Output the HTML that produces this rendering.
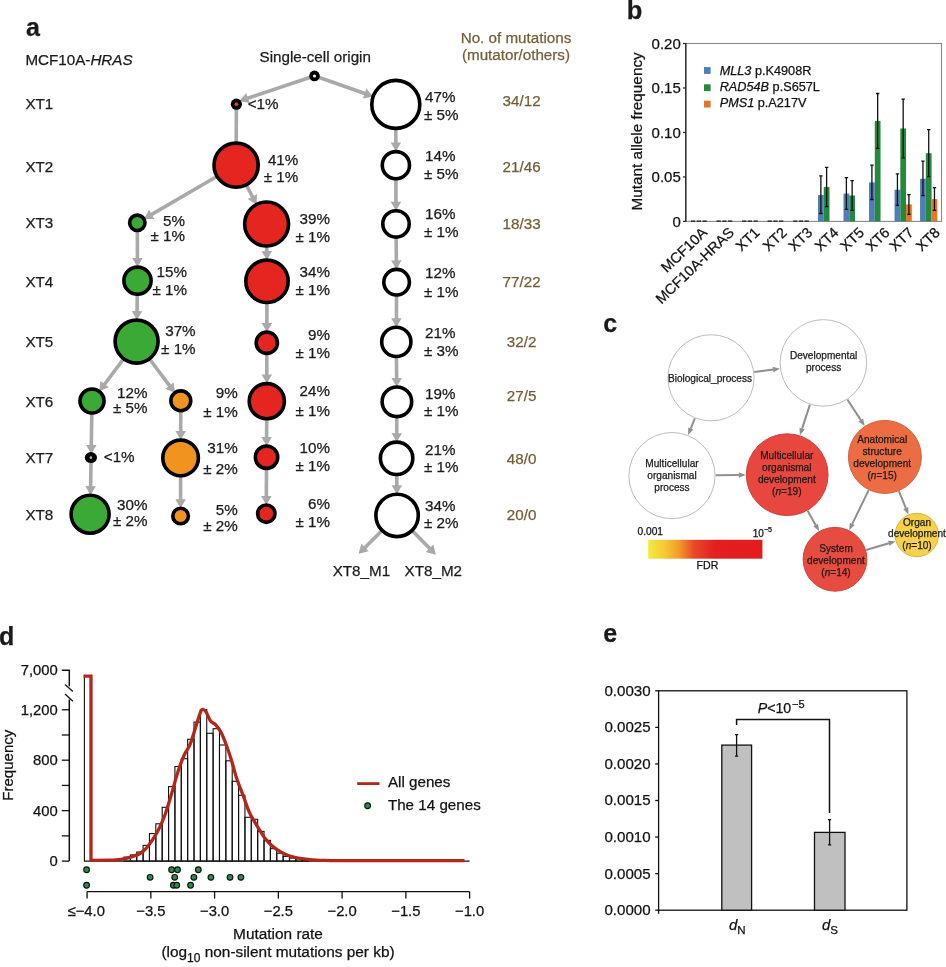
<!DOCTYPE html>
<html><head><meta charset="utf-8"><style>
html,body{margin:0;padding:0;background:#fff;}
svg{display:block;font-family:"Liberation Sans", sans-serif;will-change:transform;}
text{stroke-width:0.25px;paint-order:stroke;}
</style></head><body>
<svg width="946" height="967" viewBox="0 0 946 967">
<rect width="946" height="967" fill="#fff"/>
<line x1="310.42" y1="77.26" x2="246.95" y2="98.42" stroke="#a9a9a9" stroke-width="3.6"/>
<polygon points="239.36,100.95 246.24,93.12 249.56,103.08" fill="#a9a9a9"/>
<line x1="318.56" y1="77.32" x2="365.60" y2="93.81" stroke="#a9a9a9" stroke-width="3.6"/>
<polygon points="373.15,96.46 362.92,98.44 366.39,88.53" fill="#a9a9a9"/>
<line x1="236.38" y1="108.80" x2="236.21" y2="142.30" stroke="#a9a9a9" stroke-width="3.6"/>
<line x1="395.84" y1="129.20" x2="395.86" y2="143.60" stroke="#a9a9a9" stroke-width="3.6"/>
<polygon points="395.88,151.60 390.61,142.61 401.11,142.59" fill="#a9a9a9"/>
<line x1="216.32" y1="176.73" x2="150.86" y2="214.89" stroke="#a9a9a9" stroke-width="3.6"/>
<polygon points="143.95,218.92 149.08,209.85 154.37,218.92" fill="#a9a9a9"/>
<line x1="246.64" y1="185.53" x2="252.81" y2="197.41" stroke="#a9a9a9" stroke-width="3.6"/>
<polygon points="256.49,204.52 247.69,198.94 257.01,194.11" fill="#a9a9a9"/>
<line x1="395.92" y1="179.60" x2="395.96" y2="202.70" stroke="#a9a9a9" stroke-width="3.6"/>
<polygon points="395.98,210.70 390.71,201.71 401.21,201.69" fill="#a9a9a9"/>
<line x1="137.33" y1="231.30" x2="137.43" y2="259.10" stroke="#a9a9a9" stroke-width="3.6"/>
<polygon points="137.45,267.10 132.17,258.12 142.67,258.08" fill="#a9a9a9"/>
<line x1="266.76" y1="246.75" x2="266.80" y2="252.10" stroke="#a9a9a9" stroke-width="3.6"/>
<polygon points="266.85,260.10 261.54,251.14 272.04,251.06" fill="#a9a9a9"/>
<line x1="396.14" y1="237.90" x2="396.39" y2="261.40" stroke="#a9a9a9" stroke-width="3.6"/>
<polygon points="396.47,269.40 391.13,260.46 401.63,260.35" fill="#a9a9a9"/>
<line x1="137.29" y1="295.10" x2="137.04" y2="312.10" stroke="#a9a9a9" stroke-width="3.6"/>
<polygon points="136.92,320.10 131.80,311.03 142.30,311.18" fill="#a9a9a9"/>
<line x1="266.93" y1="303.30" x2="266.86" y2="324.05" stroke="#a9a9a9" stroke-width="3.6"/>
<polygon points="266.83,332.05 261.61,323.03 272.11,323.07" fill="#a9a9a9"/>
<line x1="396.53" y1="295.80" x2="396.41" y2="319.30" stroke="#a9a9a9" stroke-width="3.6"/>
<polygon points="396.37,327.30 391.17,318.27 401.67,318.33" fill="#a9a9a9"/>
<line x1="123.21" y1="359.43" x2="104.04" y2="384.97" stroke="#a9a9a9" stroke-width="3.6"/>
<polygon points="99.24,391.36 100.44,381.01 108.84,387.32" fill="#a9a9a9"/>
<line x1="149.94" y1="359.47" x2="170.06" y2="386.42" stroke="#a9a9a9" stroke-width="3.6"/>
<polygon points="174.85,392.83 165.26,388.76 173.67,382.47" fill="#a9a9a9"/>
<line x1="266.80" y1="354.15" x2="266.80" y2="375.60" stroke="#a9a9a9" stroke-width="3.6"/>
<polygon points="266.80,383.60 261.55,374.60 272.05,374.60" fill="#a9a9a9"/>
<line x1="396.45" y1="357.30" x2="396.67" y2="379.00" stroke="#a9a9a9" stroke-width="3.6"/>
<polygon points="396.75,387.00 391.41,378.05 401.91,377.95" fill="#a9a9a9"/>
<line x1="91.80" y1="413.85" x2="91.29" y2="446.00" stroke="#a9a9a9" stroke-width="3.6"/>
<polygon points="91.16,454.00 86.05,444.92 96.55,445.08" fill="#a9a9a9"/>
<line x1="180.76" y1="411.55" x2="180.69" y2="432.10" stroke="#a9a9a9" stroke-width="3.6"/>
<polygon points="180.66,440.10 175.44,431.08 185.94,431.12" fill="#a9a9a9"/>
<line x1="266.70" y1="419.60" x2="266.60" y2="438.00" stroke="#a9a9a9" stroke-width="3.6"/>
<polygon points="266.56,446.00 261.36,436.97 271.86,437.03" fill="#a9a9a9"/>
<line x1="396.82" y1="417.40" x2="396.73" y2="434.10" stroke="#a9a9a9" stroke-width="3.6"/>
<polygon points="396.69,442.10 391.48,433.07 401.98,433.13" fill="#a9a9a9"/>
<line x1="91.02" y1="462.40" x2="90.58" y2="487.20" stroke="#a9a9a9" stroke-width="3.6"/>
<polygon points="90.44,495.20 85.35,486.11 95.85,486.30" fill="#a9a9a9"/>
<line x1="180.60" y1="476.50" x2="180.60" y2="500.20" stroke="#a9a9a9" stroke-width="3.6"/>
<polygon points="180.60,508.20 175.35,499.20 185.85,499.20" fill="#a9a9a9"/>
<line x1="266.46" y1="469.20" x2="266.36" y2="497.00" stroke="#a9a9a9" stroke-width="3.6"/>
<polygon points="266.33,505.00 261.11,495.98 271.61,496.02" fill="#a9a9a9"/>
<line x1="396.75" y1="475.30" x2="396.84" y2="486.20" stroke="#a9a9a9" stroke-width="3.6"/>
<polygon points="396.91,494.20 391.59,485.25 402.09,485.16" fill="#a9a9a9"/>
<line x1="381.52" y1="530.94" x2="364.26" y2="548.16" stroke="#a9a9a9" stroke-width="3.6"/>
<polygon points="358.59,553.81 361.26,543.73 368.67,551.17" fill="#a9a9a9"/>
<line x1="412.56" y1="531.06" x2="430.29" y2="549.01" stroke="#a9a9a9" stroke-width="3.6"/>
<polygon points="435.91,554.71 425.85,551.99 433.32,544.61" fill="#a9a9a9"/>
<circle cx="314.5" cy="75.9" r="5.3" fill="#000"/>
<circle cx="314.5" cy="75.9" r="1.5" fill="white"/>
<circle cx="236.4" cy="104.2" r="5.6" fill="#000"/>
<circle cx="236.4" cy="104.2" r="1.9" fill="#d9403c"/>
<circle cx="395.8" cy="104.4" r="24.00" fill="white" stroke="#000" stroke-width="3.6"/>
<circle cx="236.1" cy="165.2" r="22.10" fill="#e42520" stroke="#000" stroke-width="3.6"/>
<circle cx="395.9" cy="165.2" r="13.60" fill="white" stroke="#000" stroke-width="3.6"/>
<circle cx="137.3" cy="222.8" r="7.70" fill="#3aa935" stroke="#000" stroke-width="3.6"/>
<circle cx="266.6" cy="224.0" r="21.95" fill="#e42520" stroke="#000" stroke-width="3.6"/>
<circle cx="396.0" cy="223.9" r="13.20" fill="white" stroke="#000" stroke-width="3.6"/>
<circle cx="137.5" cy="280.7" r="13.60" fill="#3aa935" stroke="#000" stroke-width="3.6"/>
<circle cx="267.0" cy="281.3" r="21.20" fill="#e42520" stroke="#000" stroke-width="3.6"/>
<circle cx="396.6" cy="282.2" r="12.80" fill="white" stroke="#000" stroke-width="3.6"/>
<circle cx="136.6" cy="341.6" r="21.50" fill="#3aa935" stroke="#000" stroke-width="3.6"/>
<circle cx="266.8" cy="342.7" r="10.65" fill="#e42520" stroke="#000" stroke-width="3.6"/>
<circle cx="396.3" cy="341.9" r="14.60" fill="white" stroke="#000" stroke-width="3.6"/>
<circle cx="92.0" cy="401.0" r="12.05" fill="#3aa935" stroke="#000" stroke-width="3.6"/>
<circle cx="180.8" cy="400.8" r="9.95" fill="#f0941f" stroke="#000" stroke-width="3.6"/>
<circle cx="266.8" cy="401.2" r="17.60" fill="#e42520" stroke="#000" stroke-width="3.6"/>
<circle cx="396.9" cy="401.8" r="14.80" fill="white" stroke="#000" stroke-width="3.6"/>
<ellipse cx="90.9" cy="457.6" rx="6.1" ry="5.5" fill="#000"/>
<circle cx="90.9" cy="457.6" r="1.3" fill="#9fc79f"/>
<circle cx="180.6" cy="457.9" r="17.80" fill="#f0941f" stroke="#000" stroke-width="3.6"/>
<circle cx="266.5" cy="457.2" r="11.20" fill="#e42520" stroke="#000" stroke-width="3.6"/>
<circle cx="396.6" cy="458.3" r="16.20" fill="white" stroke="#000" stroke-width="3.6"/>
<circle cx="90.1" cy="514.2" r="19.00" fill="#3aa935" stroke="#000" stroke-width="3.6"/>
<circle cx="180.6" cy="516.0" r="7.80" fill="#f0941f" stroke="#000" stroke-width="3.6"/>
<circle cx="266.3" cy="513.7" r="8.70" fill="#e42520" stroke="#000" stroke-width="3.6"/>
<circle cx="397.1" cy="515.4" r="21.20" fill="white" stroke="#000" stroke-width="3.6"/>
<text x="425.0" y="102.1" font-size="15.2" text-anchor="start" fill="#1a1a1a" stroke="#1a1a1a" >47%</text>
<text x="424.0" y="120.3" font-size="15.2" text-anchor="start" fill="#1a1a1a" stroke="#1a1a1a" >± 5%</text>
<text x="425.0" y="161.2" font-size="15.2" text-anchor="start" fill="#1a1a1a" stroke="#1a1a1a" >14%</text>
<text x="424.0" y="179.4" font-size="15.2" text-anchor="start" fill="#1a1a1a" stroke="#1a1a1a" >± 5%</text>
<text x="425.0" y="219.2" font-size="15.2" text-anchor="start" fill="#1a1a1a" stroke="#1a1a1a" >16%</text>
<text x="424.0" y="237.4" font-size="15.2" text-anchor="start" fill="#1a1a1a" stroke="#1a1a1a" >± 1%</text>
<text x="425.0" y="278.4" font-size="15.2" text-anchor="start" fill="#1a1a1a" stroke="#1a1a1a" >12%</text>
<text x="424.0" y="296.6" font-size="15.2" text-anchor="start" fill="#1a1a1a" stroke="#1a1a1a" >± 1%</text>
<text x="425.0" y="338.2" font-size="15.2" text-anchor="start" fill="#1a1a1a" stroke="#1a1a1a" >21%</text>
<text x="424.0" y="356.4" font-size="15.2" text-anchor="start" fill="#1a1a1a" stroke="#1a1a1a" >± 3%</text>
<text x="425.0" y="398.5" font-size="15.2" text-anchor="start" fill="#1a1a1a" stroke="#1a1a1a" >19%</text>
<text x="424.0" y="415.6" font-size="15.2" text-anchor="start" fill="#1a1a1a" stroke="#1a1a1a" >± 1%</text>
<text x="425.0" y="454.7" font-size="15.2" text-anchor="start" fill="#1a1a1a" stroke="#1a1a1a" >21%</text>
<text x="424.0" y="472.4" font-size="15.2" text-anchor="start" fill="#1a1a1a" stroke="#1a1a1a" >± 1%</text>
<text x="425.0" y="510.7" font-size="15.2" text-anchor="start" fill="#1a1a1a" stroke="#1a1a1a" >34%</text>
<text x="424.0" y="528.2" font-size="15.2" text-anchor="start" fill="#1a1a1a" stroke="#1a1a1a" >± 2%</text>
<text x="298.3" y="164.5" font-size="15.2" text-anchor="end" fill="#1a1a1a" stroke="#1a1a1a" >41%</text>
<text x="298.3" y="181.9" font-size="15.2" text-anchor="end" fill="#1a1a1a" stroke="#1a1a1a" >± 1%</text>
<text x="329.9" y="224.0" font-size="15.2" text-anchor="end" fill="#1a1a1a" stroke="#1a1a1a" >39%</text>
<text x="329.9" y="241.8" font-size="15.2" text-anchor="end" fill="#1a1a1a" stroke="#1a1a1a" >± 1%</text>
<text x="329.9" y="277.0" font-size="15.2" text-anchor="end" fill="#1a1a1a" stroke="#1a1a1a" >34%</text>
<text x="329.9" y="295.3" font-size="15.2" text-anchor="end" fill="#1a1a1a" stroke="#1a1a1a" >± 1%</text>
<text x="329.9" y="339.8" font-size="15.2" text-anchor="end" fill="#1a1a1a" stroke="#1a1a1a" >9%</text>
<text x="329.9" y="357.9" font-size="15.2" text-anchor="end" fill="#1a1a1a" stroke="#1a1a1a" >± 1%</text>
<text x="330.0" y="396.3" font-size="15.2" text-anchor="end" fill="#1a1a1a" stroke="#1a1a1a" >24%</text>
<text x="330.0" y="415.5" font-size="15.2" text-anchor="end" fill="#1a1a1a" stroke="#1a1a1a" >± 1%</text>
<text x="330.0" y="453.1" font-size="15.2" text-anchor="end" fill="#1a1a1a" stroke="#1a1a1a" >10%</text>
<text x="330.0" y="471.4" font-size="15.2" text-anchor="end" fill="#1a1a1a" stroke="#1a1a1a" >± 1%</text>
<text x="330.0" y="508.6" font-size="15.2" text-anchor="end" fill="#1a1a1a" stroke="#1a1a1a" >6%</text>
<text x="330.0" y="526.7" font-size="15.2" text-anchor="end" fill="#1a1a1a" stroke="#1a1a1a" >± 1%</text>
<text x="184.9" y="226.1" font-size="15.2" text-anchor="end" fill="#1a1a1a" stroke="#1a1a1a" >5%</text>
<text x="184.9" y="241.0" font-size="15.2" text-anchor="end" fill="#1a1a1a" stroke="#1a1a1a" >± 1%</text>
<text x="186.9" y="276.5" font-size="15.2" text-anchor="end" fill="#1a1a1a" stroke="#1a1a1a" >15%</text>
<text x="186.9" y="295.2" font-size="15.2" text-anchor="end" fill="#1a1a1a" stroke="#1a1a1a" >± 1%</text>
<text x="195.6" y="335.7" font-size="15.2" text-anchor="end" fill="#1a1a1a" stroke="#1a1a1a" >37%</text>
<text x="195.6" y="354.2" font-size="15.2" text-anchor="end" fill="#1a1a1a" stroke="#1a1a1a" >± 1%</text>
<text x="147.4" y="397.6" font-size="15.2" text-anchor="end" fill="#1a1a1a" stroke="#1a1a1a" >12%</text>
<text x="147.4" y="412.8" font-size="15.2" text-anchor="end" fill="#1a1a1a" stroke="#1a1a1a" >± 5%</text>
<text x="237.7" y="398.2" font-size="15.2" text-anchor="end" fill="#1a1a1a" stroke="#1a1a1a" >9%</text>
<text x="237.7" y="417.2" font-size="15.2" text-anchor="end" fill="#1a1a1a" stroke="#1a1a1a" >± 1%</text>
<text x="237.7" y="453.4" font-size="15.2" text-anchor="end" fill="#1a1a1a" stroke="#1a1a1a" >31%</text>
<text x="237.7" y="473.5" font-size="15.2" text-anchor="end" fill="#1a1a1a" stroke="#1a1a1a" >± 2%</text>
<text x="147.4" y="509.6" font-size="15.2" text-anchor="end" fill="#1a1a1a" stroke="#1a1a1a" >30%</text>
<text x="147.4" y="525.7" font-size="15.2" text-anchor="end" fill="#1a1a1a" stroke="#1a1a1a" >± 2%</text>
<text x="237.7" y="514.6" font-size="15.2" text-anchor="end" fill="#1a1a1a" stroke="#1a1a1a" >5%</text>
<text x="237.7" y="530.7" font-size="15.2" text-anchor="end" fill="#1a1a1a" stroke="#1a1a1a" >± 2%</text>
<text x="247.7" y="108.5" font-size="15.2" text-anchor="start" fill="#1a1a1a" stroke="#1a1a1a" >&lt;1%</text>
<text x="103.8" y="461.8" font-size="15.2" text-anchor="start" fill="#1a1a1a" stroke="#1a1a1a" >&lt;1%</text>
<text x="332.7" y="575.8" font-size="15.2" text-anchor="start" fill="#1a1a1a" stroke="#1a1a1a" >XT8_M1</text>
<text x="404.6" y="575.8" font-size="15.2" text-anchor="start" fill="#1a1a1a" stroke="#1a1a1a" >XT8_M2</text>
<text x="259.5" y="61.8" font-size="15.2" text-anchor="start" fill="#1a1a1a" stroke="#1a1a1a" >Single-cell origin</text>
<text x="25.4" y="64.8" font-size="15.2" text-anchor="start" fill="#1a1a1a" stroke="#1a1a1a" >MCF10A-<tspan font-style="italic">HRAS</tspan></text>
<text x="25.4" y="108.5" font-size="15.2" text-anchor="start" fill="#1a1a1a" stroke="#1a1a1a" >XT1</text>
<text x="25.4" y="172.2" font-size="15.2" text-anchor="start" fill="#1a1a1a" stroke="#1a1a1a" >XT2</text>
<text x="25.4" y="228.0" font-size="15.2" text-anchor="start" fill="#1a1a1a" stroke="#1a1a1a" >XT3</text>
<text x="25.4" y="286.7" font-size="15.2" text-anchor="start" fill="#1a1a1a" stroke="#1a1a1a" >XT4</text>
<text x="25.4" y="346.7" font-size="15.2" text-anchor="start" fill="#1a1a1a" stroke="#1a1a1a" >XT5</text>
<text x="25.4" y="406.6" font-size="15.2" text-anchor="start" fill="#1a1a1a" stroke="#1a1a1a" >XT6</text>
<text x="25.4" y="463.1" font-size="15.2" text-anchor="start" fill="#1a1a1a" stroke="#1a1a1a" >XT7</text>
<text x="25.4" y="520.0" font-size="15.2" text-anchor="start" fill="#1a1a1a" stroke="#1a1a1a" >XT8</text>
<text x="26" y="36.3" font-size="25" text-anchor="start" fill="#1a1a1a" stroke="#1a1a1a" font-weight="bold" fill="#000">a</text>
<text x="516" y="43.3" font-size="15.2" text-anchor="middle" fill="#735d36" stroke="#735d36" >No. of mutations</text>
<text x="516" y="60.2" font-size="15.2" text-anchor="middle" fill="#735d36" stroke="#735d36" >(mutator/others)</text>
<text x="521.6" y="106.2" font-size="15.2" text-anchor="middle" fill="#735d36" stroke="#735d36" >34/12</text>
<text x="521.6" y="172.2" font-size="15.2" text-anchor="middle" fill="#735d36" stroke="#735d36" >21/46</text>
<text x="521.6" y="228.8" font-size="15.2" text-anchor="middle" fill="#735d36" stroke="#735d36" >18/33</text>
<text x="521.6" y="287.2" font-size="15.2" text-anchor="middle" fill="#735d36" stroke="#735d36" >77/22</text>
<text x="521.6" y="347.3" font-size="15.2" text-anchor="middle" fill="#735d36" stroke="#735d36" >32/2</text>
<text x="521.6" y="401.4" font-size="15.2" text-anchor="middle" fill="#735d36" stroke="#735d36" >27/5</text>
<text x="521.6" y="463.6" font-size="15.2" text-anchor="middle" fill="#735d36" stroke="#735d36" >48/0</text>
<text x="521.6" y="520.2" font-size="15.2" text-anchor="middle" fill="#735d36" stroke="#735d36" >20/0</text>
<text x="626.8" y="18.6" font-size="25.5" text-anchor="start" fill="#1a1a1a" stroke="#1a1a1a" font-weight="bold" fill="#000">b</text>
<rect x="685.8" y="43.5" width="255.70000000000005" height="177.9" fill="none" stroke="#8a8a8a" stroke-width="1.1"/>
<line x1="685.8" y1="43.0" x2="685.8" y2="221.9" stroke="#222" stroke-width="1.3"/>
<line x1="683.0" y1="221.40" x2="685.8" y2="221.40" stroke="#222" stroke-width="1.2"/>
<text x="680.8" y="226.70000000000002" font-size="15" text-anchor="end" fill="#111" stroke="#111" >0</text>
<line x1="683.0" y1="176.93" x2="685.8" y2="176.93" stroke="#222" stroke-width="1.2"/>
<text x="680.8" y="182.22500000000002" font-size="15" text-anchor="end" fill="#111" stroke="#111" >0.05</text>
<line x1="683.0" y1="132.45" x2="685.8" y2="132.45" stroke="#222" stroke-width="1.2"/>
<text x="680.8" y="137.75" font-size="15" text-anchor="end" fill="#111" stroke="#111" >0.10</text>
<line x1="683.0" y1="87.97" x2="685.8" y2="87.97" stroke="#222" stroke-width="1.2"/>
<text x="680.8" y="93.27499999999999" font-size="15" text-anchor="end" fill="#111" stroke="#111" >0.15</text>
<line x1="683.0" y1="43.50" x2="685.8" y2="43.50" stroke="#222" stroke-width="1.2"/>
<text x="680.8" y="48.8" font-size="15" text-anchor="end" fill="#111" stroke="#111" >0.20</text>
<text transform="translate(642.2,131.4) rotate(-90)" font-size="15.3" text-anchor="middle" fill="#111" stroke="#111">Mutant allele frequency</text>
<rect x="704.0" y="67.1" width="6.6" height="6.8" fill="#4f7db8"/>
<rect x="704.0" y="84.3" width="6.6" height="6.8" fill="#22893e"/>
<rect x="704.0" y="100.7" width="6.6" height="6.8" fill="#e2762a"/>
<text x="719.7" y="75.0" font-size="12.7" fill="#111" stroke="#111"><tspan font-style="italic">MLL3</tspan> p.K4908R</text>
<text x="719.7" y="91.2" font-size="12.7" fill="#111" stroke="#111"><tspan font-style="italic">RAD54B</tspan> p.S657L</text>
<text x="719.7" y="107.3" font-size="12.7" fill="#111" stroke="#111"><tspan font-style="italic">PMS1</tspan> p.A217V</text>
<line x1="691.00" y1="221.1" x2="695.25" y2="221.1" stroke="#111" stroke-width="1.2"/>
<line x1="696.75" y1="221.1" x2="701.00" y2="221.1" stroke="#111" stroke-width="1.2"/>
<line x1="702.50" y1="221.1" x2="706.75" y2="221.1" stroke="#111" stroke-width="1.2"/>
<text transform="translate(707.92,233.6) rotate(-44)" font-size="14.5" text-anchor="end" fill="#111" stroke="#111">MCF10A</text>
<line x1="716.52" y1="221.1" x2="720.77" y2="221.1" stroke="#111" stroke-width="1.2"/>
<line x1="722.27" y1="221.1" x2="726.52" y2="221.1" stroke="#111" stroke-width="1.2"/>
<line x1="728.02" y1="221.1" x2="732.27" y2="221.1" stroke="#111" stroke-width="1.2"/>
<text transform="translate(735.04,233.6) rotate(-44)" font-size="14.5" text-anchor="end" fill="#111" stroke="#111">MCF10A-HRAS</text>
<line x1="742.04" y1="221.1" x2="746.29" y2="221.1" stroke="#111" stroke-width="1.2"/>
<line x1="747.79" y1="221.1" x2="752.04" y2="221.1" stroke="#111" stroke-width="1.2"/>
<line x1="753.54" y1="221.1" x2="757.79" y2="221.1" stroke="#111" stroke-width="1.2"/>
<text transform="translate(760.57,233.6) rotate(-44)" font-size="14.5" text-anchor="end" fill="#111" stroke="#111">XT1</text>
<line x1="767.56" y1="221.1" x2="771.81" y2="221.1" stroke="#111" stroke-width="1.2"/>
<line x1="773.31" y1="221.1" x2="777.56" y2="221.1" stroke="#111" stroke-width="1.2"/>
<line x1="779.06" y1="221.1" x2="783.31" y2="221.1" stroke="#111" stroke-width="1.2"/>
<text transform="translate(787.69,233.6) rotate(-44)" font-size="14.5" text-anchor="end" fill="#111" stroke="#111">XT2</text>
<line x1="793.08" y1="221.1" x2="797.33" y2="221.1" stroke="#111" stroke-width="1.2"/>
<line x1="798.83" y1="221.1" x2="803.08" y2="221.1" stroke="#111" stroke-width="1.2"/>
<line x1="804.58" y1="221.1" x2="808.83" y2="221.1" stroke="#111" stroke-width="1.2"/>
<text transform="translate(813.31,233.6) rotate(-44)" font-size="14.5" text-anchor="end" fill="#111" stroke="#111">XT3</text>
<rect x="818.00" y="195.0" width="5.75" height="26.40" fill="#4f7db8"/>
<rect x="823.75" y="187.1" width="5.75" height="34.30" fill="#22893e"/>
<path d="M820.88 175.8 V213.5 M819.17 175.8 H822.58 M819.17 213.5 H822.58" stroke="#111" stroke-width="1.3" fill="none"/>
<path d="M826.62 167.4 V206.7 M824.92 167.4 H828.33 M824.92 206.7 H828.33" stroke="#111" stroke-width="1.3" fill="none"/>
<text transform="translate(839.62,233.6) rotate(-44)" font-size="14.5" text-anchor="end" fill="#111" stroke="#111">XT4</text>
<rect x="843.52" y="193.6" width="5.75" height="27.80" fill="#4f7db8"/>
<rect x="849.27" y="195.5" width="5.75" height="25.90" fill="#22893e"/>
<path d="M846.39 177.7 V209.4 M844.69 177.7 H848.10 M844.69 209.4 H848.10" stroke="#111" stroke-width="1.3" fill="none"/>
<path d="M852.14 180.6 V210.4 M850.44 180.6 H853.85 M850.44 210.4 H853.85" stroke="#111" stroke-width="1.3" fill="none"/>
<text transform="translate(865.14,233.6) rotate(-44)" font-size="14.5" text-anchor="end" fill="#111" stroke="#111">XT5</text>
<rect x="869.04" y="182.4" width="5.75" height="39.00" fill="#4f7db8"/>
<rect x="874.79" y="120.9" width="5.75" height="100.50" fill="#22893e"/>
<path d="M871.91 165.1 V199.5 M870.21 165.1 H873.62 M870.21 199.5 H873.62" stroke="#111" stroke-width="1.3" fill="none"/>
<path d="M877.66 93.5 V148.3 M875.96 93.5 H879.37 M875.96 148.3 H879.37" stroke="#111" stroke-width="1.3" fill="none"/>
<text transform="translate(890.66,233.6) rotate(-44)" font-size="14.5" text-anchor="end" fill="#111" stroke="#111">XT6</text>
<rect x="894.56" y="189.7" width="5.75" height="31.70" fill="#4f7db8"/>
<rect x="900.31" y="128.5" width="5.75" height="92.90" fill="#22893e"/>
<rect x="906.06" y="204.4" width="5.75" height="17.00" fill="#e2762a"/>
<path d="M897.43 173.9 V205.4 M895.73 173.9 H899.13 M895.73 205.4 H899.13" stroke="#111" stroke-width="1.3" fill="none"/>
<path d="M903.18 99.1 V157.9 M901.48 99.1 H904.88 M901.48 157.9 H904.88" stroke="#111" stroke-width="1.3" fill="none"/>
<path d="M908.93 194.6 V214.3 M907.23 194.6 H910.63 M907.23 214.3 H910.63" stroke="#111" stroke-width="1.3" fill="none"/>
<text transform="translate(914.48,233.6) rotate(-44)" font-size="14.5" text-anchor="end" fill="#111" stroke="#111">XT7</text>
<rect x="920.08" y="178.8" width="5.75" height="42.60" fill="#4f7db8"/>
<rect x="925.83" y="153.2" width="5.75" height="68.20" fill="#22893e"/>
<rect x="931.58" y="199.1" width="5.75" height="22.30" fill="#e2762a"/>
<path d="M922.96 161.2 V195.6 M921.25 161.2 H924.66 M921.25 195.6 H924.66" stroke="#111" stroke-width="1.3" fill="none"/>
<path d="M928.71 129.7 V176.7 M927.00 129.7 H930.41 M927.00 176.7 H930.41" stroke="#111" stroke-width="1.3" fill="none"/>
<path d="M934.46 187.6 V210.4 M932.75 187.6 H936.16 M932.75 210.4 H936.16" stroke="#111" stroke-width="1.3" fill="none"/>
<text transform="translate(940.81,233.6) rotate(-44)" font-size="14.5" text-anchor="end" fill="#111" stroke="#111">XT8</text>
<text x="603.3" y="332.3" font-size="25" text-anchor="start" fill="#1a1a1a" stroke="#1a1a1a" font-weight="bold" fill="#000">c</text>
<line x1="754.22" y1="372.07" x2="773.04" y2="369.58" stroke="#8f8f8f" stroke-width="2"/>
<polygon points="779.98,368.66 773.40,372.30 772.68,366.85" fill="#8f8f8f"/>
<line x1="694.85" y1="418.30" x2="690.74" y2="428.60" stroke="#8f8f8f" stroke-width="2"/>
<polygon points="688.15,435.10 688.19,427.58 693.30,429.62" fill="#8f8f8f"/>
<line x1="809.91" y1="404.57" x2="802.11" y2="428.65" stroke="#8f8f8f" stroke-width="2"/>
<polygon points="799.95,435.31 799.49,427.81 804.73,429.50" fill="#8f8f8f"/>
<line x1="847.38" y1="399.55" x2="860.81" y2="420.08" stroke="#8f8f8f" stroke-width="2"/>
<polygon points="864.64,425.94 858.51,421.59 863.11,418.57" fill="#8f8f8f"/>
<line x1="715.60" y1="475.26" x2="738.80" y2="475.08" stroke="#8f8f8f" stroke-width="2"/>
<polygon points="745.80,475.02 738.82,477.83 738.78,472.33" fill="#8f8f8f"/>
<line x1="807.57" y1="510.74" x2="815.62" y2="525.00" stroke="#8f8f8f" stroke-width="2"/>
<polygon points="819.06,531.09 813.22,526.35 818.01,523.64" fill="#8f8f8f"/>
<line x1="868.69" y1="490.16" x2="852.26" y2="523.88" stroke="#8f8f8f" stroke-width="2"/>
<polygon points="849.19,530.17 849.79,522.68 854.73,525.09" fill="#8f8f8f"/>
<line x1="898.89" y1="491.15" x2="905.76" y2="507.97" stroke="#8f8f8f" stroke-width="2"/>
<polygon points="908.41,514.45 903.21,509.01 908.30,506.93" fill="#8f8f8f"/>
<line x1="866.06" y1="550.07" x2="888.81" y2="543.32" stroke="#8f8f8f" stroke-width="2"/>
<polygon points="895.52,541.32 889.59,545.95 888.03,540.68" fill="#8f8f8f"/>
<circle cx="711.0" cy="377.8" r="43.1" fill="#ffffff" stroke="#bdbdbd" stroke-width="1"/>
<circle cx="823.4" cy="362.9" r="43.3" fill="#ffffff" stroke="#bdbdbd" stroke-width="1"/>
<circle cx="672.0" cy="475.6" r="43.1" fill="#ffffff" stroke="#bdbdbd" stroke-width="1"/>
<circle cx="787.2" cy="474.7" r="40.9" fill="#e8473f" stroke="#d0413a" stroke-width="1"/>
<circle cx="884.9" cy="456.9" r="36.5" fill="#ec6d43" stroke="#d6623c" stroke-width="1"/>
<circle cx="835.0" cy="559.3" r="31.9" fill="#e64c40" stroke="#cf453a" stroke-width="1"/>
<circle cx="916.8" cy="535.0" r="21.7" fill="#f6d24b" stroke="#d8b640" stroke-width="1"/>
<text x="710.0" y="381.9" font-size="10.1" text-anchor="middle" fill="#1a1a1a" stroke="#1a1a1a">Biological_process</text>
<text x="823.6" y="358.8" font-size="10.1" text-anchor="middle" fill="#1a1a1a" stroke="#1a1a1a">Developmental</text>
<text x="823.6" y="370.8" font-size="10.1" text-anchor="middle" fill="#1a1a1a" stroke="#1a1a1a">process</text>
<text x="672.0" y="467.0" font-size="10.1" text-anchor="middle" fill="#1a1a1a" stroke="#1a1a1a">Multicellular</text>
<text x="672.0" y="479.0" font-size="10.1" text-anchor="middle" fill="#1a1a1a" stroke="#1a1a1a">organismal</text>
<text x="672.0" y="491.0" font-size="10.1" text-anchor="middle" fill="#1a1a1a" stroke="#1a1a1a">process</text>
<text x="786.8" y="459.2" font-size="10.1" text-anchor="middle" fill="#1a1a1a" stroke="#1a1a1a">Multicellular</text>
<text x="786.8" y="471.2" font-size="10.1" text-anchor="middle" fill="#1a1a1a" stroke="#1a1a1a">organismal</text>
<text x="786.8" y="483.2" font-size="10.1" text-anchor="middle" fill="#1a1a1a" stroke="#1a1a1a">development</text>
<text x="786.8" y="495.1" font-size="10.1" text-anchor="middle" fill="#1a1a1a" stroke="#1a1a1a">(<tspan font-style="italic">n</tspan>=19)</text>
<text x="882.2" y="442.9" font-size="10.1" text-anchor="middle" fill="#1a1a1a" stroke="#1a1a1a">Anatomical</text>
<text x="882.2" y="454.8" font-size="10.1" text-anchor="middle" fill="#1a1a1a" stroke="#1a1a1a">structure</text>
<text x="882.2" y="467.0" font-size="10.1" text-anchor="middle" fill="#1a1a1a" stroke="#1a1a1a">development</text>
<text x="882.2" y="479.2" font-size="10.1" text-anchor="middle" fill="#1a1a1a" stroke="#1a1a1a">(<tspan font-style="italic">n</tspan>=15)</text>
<text x="836.0" y="551.7" font-size="10.1" text-anchor="middle" fill="#1a1a1a" stroke="#1a1a1a">System</text>
<text x="836.0" y="563.7" font-size="10.1" text-anchor="middle" fill="#1a1a1a" stroke="#1a1a1a">development</text>
<text x="836.0" y="575.7" font-size="10.1" text-anchor="middle" fill="#1a1a1a" stroke="#1a1a1a">(<tspan font-style="italic">n</tspan>=14)</text>
<text x="917.0" y="525.6" font-size="10.1" text-anchor="middle" fill="#1a1a1a" stroke="#1a1a1a">Organ</text>
<text x="917.0" y="537.2" font-size="10.1" text-anchor="middle" fill="#1a1a1a" stroke="#1a1a1a">development</text>
<text x="917.0" y="548.8" font-size="10.1" text-anchor="middle" fill="#1a1a1a" stroke="#1a1a1a">(<tspan font-style="italic">n</tspan>=10)</text>
<defs><linearGradient id="fdr" x1="0" x2="1" y1="0" y2="0"><stop offset="0" stop-color="#f3ea3e"/><stop offset="0.14" stop-color="#f5cb35"/><stop offset="0.27" stop-color="#f39a2a"/><stop offset="0.40" stop-color="#e84a28"/><stop offset="0.58" stop-color="#e31f1f"/><stop offset="1" stop-color="#e31b1d"/></linearGradient></defs>
<rect x="648.2" y="539.8" width="114.2" height="18.9" fill="url(#fdr)"/>
<text x="637.5" y="535.0" font-size="10.2" text-anchor="start" fill="#111" stroke="#111" >0.001</text>
<text x="752.8" y="537.4" font-size="10" fill="#111" stroke="#111">10<tspan font-size="7.2" dy="-5">−5</tspan></text>
<text x="707.5" y="568.8" font-size="10.6" text-anchor="middle" fill="#111" stroke="#111" >FDR</text>
<text x="-1" y="644.5" font-size="25" text-anchor="start" fill="#1a1a1a" stroke="#1a1a1a" font-weight="bold" fill="#000">d</text>
<path d="M61.8 670.3 H69.3 V686.2 M69.3 699.6 V861.1" stroke="#111" stroke-width="1.5" fill="none"/>
<path d="M65.0 684.6 L72.9 691.6 M65.0 694.1 L72.9 701.2" stroke="#111" stroke-width="1.3" fill="none"/>
<line x1="61.8" y1="861.10" x2="69.3" y2="861.10" stroke="#111" stroke-width="1.3"/>
<line x1="61.8" y1="835.88" x2="69.3" y2="835.88" stroke="#111" stroke-width="1.3"/>
<line x1="61.8" y1="810.65" x2="69.3" y2="810.65" stroke="#111" stroke-width="1.3"/>
<line x1="61.8" y1="785.42" x2="69.3" y2="785.42" stroke="#111" stroke-width="1.3"/>
<line x1="61.8" y1="760.20" x2="69.3" y2="760.20" stroke="#111" stroke-width="1.3"/>
<line x1="61.8" y1="734.98" x2="69.3" y2="734.98" stroke="#111" stroke-width="1.3"/>
<line x1="61.8" y1="709.75" x2="69.3" y2="709.75" stroke="#111" stroke-width="1.3"/>
<text x="57.8" y="866.1" font-size="14.8" text-anchor="end" fill="#111" stroke="#111" >0</text>
<text x="57.8" y="815.65" font-size="14.8" text-anchor="end" fill="#111" stroke="#111" >400</text>
<text x="57.8" y="765.2" font-size="14.8" text-anchor="end" fill="#111" stroke="#111" >800</text>
<text x="57.8" y="714.75" font-size="14.8" text-anchor="end" fill="#111" stroke="#111" >1,200</text>
<text x="57.8" y="675.3" font-size="14.8" text-anchor="end" fill="#111" stroke="#111" >7,000</text>
<text transform="translate(13.0,765.2) rotate(-90)" font-size="15" text-anchor="middle" fill="#111" stroke="#111">Frequency</text>
<rect x="124.00" y="857.1" width="6.365" height="4.00" fill="none" stroke="#111" stroke-width="1.1"/>
<rect x="130.37" y="854.9" width="6.365" height="6.20" fill="none" stroke="#111" stroke-width="1.1"/>
<rect x="136.73" y="852.0" width="6.365" height="9.10" fill="none" stroke="#111" stroke-width="1.1"/>
<rect x="143.09" y="845.4" width="6.365" height="15.70" fill="none" stroke="#111" stroke-width="1.1"/>
<rect x="149.46" y="833.6" width="6.365" height="27.50" fill="none" stroke="#111" stroke-width="1.1"/>
<rect x="155.82" y="823.8" width="6.365" height="37.30" fill="none" stroke="#111" stroke-width="1.1"/>
<rect x="162.19" y="807.3" width="6.365" height="53.80" fill="none" stroke="#111" stroke-width="1.1"/>
<rect x="168.56" y="786.6" width="6.365" height="74.50" fill="none" stroke="#111" stroke-width="1.1"/>
<rect x="174.92" y="766.5" width="6.365" height="94.60" fill="none" stroke="#111" stroke-width="1.1"/>
<rect x="181.28" y="758.7" width="6.365" height="102.40" fill="none" stroke="#111" stroke-width="1.1"/>
<rect x="187.65" y="739.3" width="6.365" height="121.80" fill="none" stroke="#111" stroke-width="1.1"/>
<rect x="194.01" y="722.1" width="6.365" height="139.00" fill="none" stroke="#111" stroke-width="1.1"/>
<rect x="200.38" y="709.5" width="6.365" height="151.60" fill="none" stroke="#111" stroke-width="1.1"/>
<rect x="206.75" y="733.3" width="6.365" height="127.80" fill="none" stroke="#111" stroke-width="1.1"/>
<rect x="213.11" y="728.7" width="6.365" height="132.40" fill="none" stroke="#111" stroke-width="1.1"/>
<rect x="219.48" y="745.0" width="6.365" height="116.10" fill="none" stroke="#111" stroke-width="1.1"/>
<rect x="225.84" y="760.8" width="6.365" height="100.30" fill="none" stroke="#111" stroke-width="1.1"/>
<rect x="232.20" y="781.3" width="6.365" height="79.80" fill="none" stroke="#111" stroke-width="1.1"/>
<rect x="238.57" y="795.3" width="6.365" height="65.80" fill="none" stroke="#111" stroke-width="1.1"/>
<rect x="244.94" y="817.3" width="6.365" height="43.80" fill="none" stroke="#111" stroke-width="1.1"/>
<rect x="251.30" y="819.3" width="6.365" height="41.80" fill="none" stroke="#111" stroke-width="1.1"/>
<rect x="257.66" y="831.4" width="6.365" height="29.70" fill="none" stroke="#111" stroke-width="1.1"/>
<rect x="264.03" y="840.4" width="6.365" height="20.70" fill="none" stroke="#111" stroke-width="1.1"/>
<rect x="270.39" y="848.7" width="6.365" height="12.40" fill="none" stroke="#111" stroke-width="1.1"/>
<rect x="276.76" y="853.2" width="6.365" height="7.90" fill="none" stroke="#111" stroke-width="1.1"/>
<rect x="283.12" y="856.4" width="6.365" height="4.70" fill="none" stroke="#111" stroke-width="1.1"/>
<rect x="289.49" y="858.1" width="6.365" height="3.00" fill="none" stroke="#111" stroke-width="1.1"/>
<rect x="295.86" y="859.0" width="6.365" height="2.10" fill="none" stroke="#111" stroke-width="1.1"/>
<rect x="302.22" y="859.8" width="6.365" height="1.30" fill="none" stroke="#111" stroke-width="1.1"/>
<path d="M84.4 861.1 V676.2 H91.0" stroke="#111" stroke-width="1.1" fill="none"/>
<line x1="84.0" y1="861.1" x2="469.6" y2="861.1" stroke="#111" stroke-width="1.2"/>
<path d="M83.5 676.2 H91.0 V860.3 L110 860.2" stroke="#b3261a" stroke-width="3.3" fill="none" stroke-linejoin="miter"/>
<path d="M110 860.2 C112.12 860.02 119.18 859.63 122.70 859.10 C126.22 858.57 128.28 857.88 131.10 857.00 C133.92 856.12 137.13 855.20 139.60 853.80 C142.07 852.40 143.78 850.88 145.90 848.60 C148.02 846.32 150.18 843.28 152.30 840.10 C154.42 836.92 156.48 833.73 158.60 829.50 C160.72 825.27 162.88 820.50 165.00 814.70 C167.12 808.90 169.18 801.73 171.30 794.70 C173.42 787.67 175.58 779.03 177.70 772.50 C179.82 765.97 181.90 760.27 184.00 755.50 C186.10 750.73 188.18 749.18 190.30 743.90 C192.42 738.62 194.93 729.27 196.70 723.80 C198.47 718.33 199.85 713.48 200.90 711.10 C201.95 708.72 202.12 709.32 203.00 709.50 C203.88 709.68 204.97 710.33 206.20 712.20 C207.43 714.07 208.82 718.58 210.40 720.70 C211.98 722.82 213.93 722.97 215.70 724.90 C217.47 726.83 219.23 728.95 221.00 732.30 C222.77 735.65 224.53 740.25 226.30 745.00 C228.07 749.75 229.85 755.17 231.60 760.80 C233.35 766.43 234.87 772.98 236.80 778.80 C238.73 784.62 241.08 790.07 243.20 795.70 C245.32 801.33 247.03 807.32 249.50 812.60 C251.97 817.88 255.18 822.82 258.00 827.40 C260.82 831.98 263.23 836.40 266.40 840.10 C269.57 843.80 273.12 846.95 277.00 849.60 C280.88 852.25 284.20 854.33 289.70 856.00 C295.20 857.67 303.28 858.83 310.00 859.60 C316.72 860.37 326.67 860.43 330.00 860.60 L464.5 860.6" stroke="#b3261a" stroke-width="3.3" fill="none" stroke-linejoin="round"/>
<path d="M87.10 891.6 H469.60" stroke="#111" stroke-width="1.3" fill="none"/>
<line x1="87.10" y1="891.6" x2="87.10" y2="898.6" stroke="#111" stroke-width="1.3"/>
<text x="67.6" y="916.0" font-size="14.8" text-anchor="start" fill="#111" stroke="#111" >≤−4.0</text>
<line x1="150.85" y1="891.6" x2="150.85" y2="898.6" stroke="#111" stroke-width="1.3"/>
<text x="150.85" y="916.0" font-size="14.8" text-anchor="middle" fill="#111" stroke="#111" >−3.5</text>
<line x1="214.60" y1="891.6" x2="214.60" y2="898.6" stroke="#111" stroke-width="1.3"/>
<text x="214.6" y="916.0" font-size="14.8" text-anchor="middle" fill="#111" stroke="#111" >−3.0</text>
<line x1="278.35" y1="891.6" x2="278.35" y2="898.6" stroke="#111" stroke-width="1.3"/>
<text x="278.35" y="916.0" font-size="14.8" text-anchor="middle" fill="#111" stroke="#111" >−2.5</text>
<line x1="342.10" y1="891.6" x2="342.10" y2="898.6" stroke="#111" stroke-width="1.3"/>
<text x="342.1" y="916.0" font-size="14.8" text-anchor="middle" fill="#111" stroke="#111" >−2.0</text>
<line x1="405.85" y1="891.6" x2="405.85" y2="898.6" stroke="#111" stroke-width="1.3"/>
<text x="405.85" y="916.0" font-size="14.8" text-anchor="middle" fill="#111" stroke="#111" >−1.5</text>
<line x1="469.60" y1="891.6" x2="469.60" y2="898.6" stroke="#111" stroke-width="1.3"/>
<text x="469.6" y="916.0" font-size="14.8" text-anchor="middle" fill="#111" stroke="#111" >−1.0</text>
<text x="278.0" y="938.5" font-size="15.4" text-anchor="middle" fill="#111" stroke="#111" >Mutation rate</text>
<text x="278.0" y="957.0" font-size="15.4" text-anchor="middle" fill="#111" stroke="#111">(log<tspan font-size="12" dy="5">10</tspan><tspan dy="-5"> non-silent mutations per kb)</tspan></text>
<circle cx="86.6" cy="869.7" r="2.85" fill="#2e8b46" stroke="#111" stroke-width="1.15"/>
<circle cx="171.6" cy="869.7" r="2.85" fill="#2e8b46" stroke="#111" stroke-width="1.15"/>
<circle cx="177.5" cy="869.7" r="2.85" fill="#2e8b46" stroke="#111" stroke-width="1.15"/>
<circle cx="198.3" cy="869.7" r="2.85" fill="#2e8b46" stroke="#111" stroke-width="1.15"/>
<circle cx="150.1" cy="877.3" r="2.85" fill="#2e8b46" stroke="#111" stroke-width="1.15"/>
<circle cx="174.7" cy="877.3" r="2.85" fill="#2e8b46" stroke="#111" stroke-width="1.15"/>
<circle cx="193.9" cy="877.3" r="2.85" fill="#2e8b46" stroke="#111" stroke-width="1.15"/>
<circle cx="210.9" cy="877.3" r="2.85" fill="#2e8b46" stroke="#111" stroke-width="1.15"/>
<circle cx="230.0" cy="877.3" r="2.85" fill="#2e8b46" stroke="#111" stroke-width="1.15"/>
<circle cx="240.9" cy="877.3" r="2.85" fill="#2e8b46" stroke="#111" stroke-width="1.15"/>
<circle cx="86.6" cy="885.2" r="2.85" fill="#2e8b46" stroke="#111" stroke-width="1.15"/>
<circle cx="173.4" cy="885.2" r="2.85" fill="#2e8b46" stroke="#111" stroke-width="1.15"/>
<circle cx="176.7" cy="885.2" r="2.85" fill="#2e8b46" stroke="#111" stroke-width="1.15"/>
<circle cx="190.6" cy="885.2" r="2.85" fill="#2e8b46" stroke="#111" stroke-width="1.15"/>
<line x1="357.2" y1="783.6" x2="379.5" y2="783.6" stroke="#b3261a" stroke-width="2.8"/>
<text x="387.9" y="787.2" font-size="15.2" text-anchor="start" fill="#111" stroke="#111" >All genes</text>
<circle cx="367.6" cy="805.7" r="2.85" fill="#2e8b46" stroke="#111" stroke-width="1.15"/>
<text x="387.9" y="809.6" font-size="15.2" text-anchor="start" fill="#111" stroke="#111" >The 14 genes</text>
<text x="603.2" y="642.0" font-size="25" text-anchor="start" fill="#1a1a1a" stroke="#1a1a1a" font-weight="bold" fill="#000">e</text>
<rect x="658.6" y="690.8" width="248.29999999999995" height="219.4000000000001" fill="none" stroke="#111" stroke-width="1.3"/>
<line x1="658.6" y1="910.2" x2="658.6" y2="913.8000000000001" stroke="#111" stroke-width="1.3"/>
<line x1="655.2" y1="910.20" x2="658.6" y2="910.20" stroke="#111" stroke-width="1.3"/>
<text x="650.6" y="915.1" font-size="15.1" text-anchor="end" fill="#111" stroke="#111" >0.0000</text>
<line x1="655.2" y1="873.63" x2="658.6" y2="873.63" stroke="#111" stroke-width="1.3"/>
<text x="650.6" y="878.5333333333333" font-size="15.1" text-anchor="end" fill="#111" stroke="#111" >0.0005</text>
<line x1="655.2" y1="837.07" x2="658.6" y2="837.07" stroke="#111" stroke-width="1.3"/>
<text x="650.6" y="841.9666666666667" font-size="15.1" text-anchor="end" fill="#111" stroke="#111" >0.0010</text>
<line x1="655.2" y1="800.50" x2="658.6" y2="800.50" stroke="#111" stroke-width="1.3"/>
<text x="650.6" y="805.4" font-size="15.1" text-anchor="end" fill="#111" stroke="#111" >0.0015</text>
<line x1="655.2" y1="763.93" x2="658.6" y2="763.93" stroke="#111" stroke-width="1.3"/>
<text x="650.6" y="768.8333333333334" font-size="15.1" text-anchor="end" fill="#111" stroke="#111" >0.0020</text>
<line x1="655.2" y1="727.37" x2="658.6" y2="727.37" stroke="#111" stroke-width="1.3"/>
<text x="650.6" y="732.2666666666665" font-size="15.1" text-anchor="end" fill="#111" stroke="#111" >0.0025</text>
<line x1="655.2" y1="690.80" x2="658.6" y2="690.80" stroke="#111" stroke-width="1.3"/>
<text x="650.6" y="695.6999999999999" font-size="15.1" text-anchor="end" fill="#111" stroke="#111" >0.0030</text>
<rect x="721.8" y="745.1" width="29.8" height="165.1" fill="#c0c0c0" stroke="#111" stroke-width="1.3"/>
<rect x="814.5" y="832.4" width="30.5" height="77.8" fill="#c0c0c0" stroke="#111" stroke-width="1.3"/>
<path d="M736.6 734.6 V756.1 M735.0 734.6 H738.2 M735.0 756.1 H738.2 M829.6 819.7 V844.8 M828.0 819.7 H831.2 M828.0 844.8 H831.2" stroke="#111" stroke-width="1.3" fill="none"/>
<path d="M736.6 724.9 V719.6 H829.5 V813.1" stroke="#111" stroke-width="1.5" fill="none"/>
<text x="757.7" y="712.9" font-size="14.2" fill="#111" stroke="#111"><tspan font-style="italic">P</tspan>&lt;10<tspan font-size="11" dx="0.8" dy="-4.8">−5</tspan></text>
<text x="729.0" y="929.6" font-size="15" fill="#111" stroke="#111"><tspan font-style="italic">d</tspan><tspan font-size="11.5" dy="4.2">N</tspan></text>
<text x="822.0" y="929.6" font-size="15" fill="#111" stroke="#111"><tspan font-style="italic">d</tspan><tspan font-size="11.5" dy="4.2">S</tspan></text>
</svg></body></html>
